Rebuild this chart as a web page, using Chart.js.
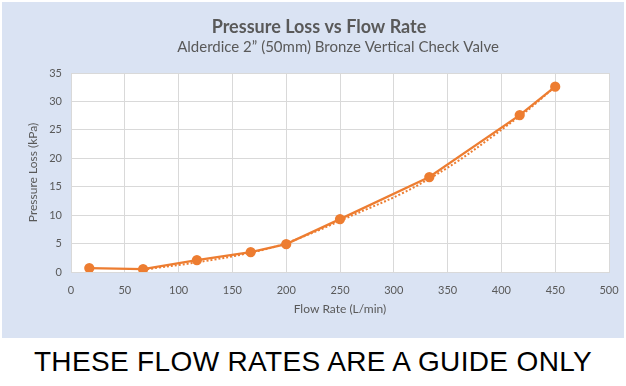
<!DOCTYPE html>
<html>
<head>
<meta charset="utf-8">
<script src="https://cdn.jsdelivr.net/npm/chart.js@4/dist/chart.umd.min.js"></script>
<style>
  html, body { margin: 0; padding: 0; background: #fff; }
  #wrap { position: relative; width: 626px; height: 386px; }
  #panel { position: absolute; left: 2px; top: 2px; width: 622px; height: 336px; background: #dae3f3; }
  #note { position: absolute; left: 0; top: 346px; width: 626px; text-align: center;
          font-family: "Liberation Sans", Arial, sans-serif; font-size: 28px; color: #000; letter-spacing: 0.35px; }
</style>
</head>
<body>
<div id="wrap">
  <div id="panel"><canvas id="chart" width="622" height="336"></canvas></div>
  <div id="note">THESE FLOW RATES ARE A GUIDE ONLY</div>
</div>
<script>
const flowRates = [17, 67, 117, 167, 200, 250, 333, 417, 450];
const pressureLoss = [0.7, 0.5, 2.1, 3.5, 4.9, 9.3, 16.7, 27.6, 32.6];
// dotted trendline
const trendFlow = [67, 117, 167, 200, 250, 333, 417, 450];
const trendLoss = [0.4, 1.7, 3.4, 5.1, 9.0, 16.4, 27.4, 32.6];

const chartTitle = 'Pressure Loss vs Flow Rate';
const chartSubtitle = 'Alderdice 2\u201D (50mm) Bronze Vertical Check Valve';

const orange = '#ed7d31';
const grey = '#595959';

// white plot area + the two title lines (placed like the Excel original)
const decor = {
    id: 'decor',
    beforeDraw(chart) {
        const { ctx, chartArea } = chart;
        ctx.save();
        ctx.fillStyle = '#ffffff';
        ctx.fillRect(chartArea.left, chartArea.top, chartArea.right - chartArea.left, chartArea.bottom - chartArea.top);
        ctx.restore();
    },
    afterDraw(chart) {
        const ctx = chart.ctx;
        ctx.save();
        ctx.fillStyle = grey;
        ctx.textAlign = 'center';
        ctx.textBaseline = 'middle';
        ctx.font = 'bold 18px Lato';
        ctx.fillText(chartTitle, 317, 25);
        ctx.font = '15px Lato';
        ctx.fillText(chartSubtitle, 336, 45);
        ctx.restore();
    }
};

new Chart(document.getElementById('chart').getContext('2d'), {
    type: 'scatter',
    data: {
        datasets: [{
            label: 'Pressure Loss',
            data: flowRates.map((x, i) => ({ x: x, y: pressureLoss[i] })),
            showLine: true,
            borderColor: orange,
            backgroundColor: orange,
            borderWidth: 2.25,
            pointRadius: 4,
            pointHoverRadius: 4,
            order: 1
        }, {
            label: 'Trend',
            data: trendFlow.map((x, i) => ({ x: x, y: trendLoss[i] })),
            showLine: true,
            borderColor: orange,
            borderWidth: 2,
            borderDash: [2, 2],
            pointRadius: 0,
            tension: 0.4,
            order: 2
        }]
    },
    options: {
        responsive: false,
        animation: false,
        layout: { padding: { left: 24, right: 15, top: 71, bottom: 22 } },
        scales: {
            x: {
                type: 'linear',
                min: 0, max: 500,
                ticks: { stepSize: 50, color: grey, font: { family: 'Lato', size: 11 }, padding: 12 },
                grid: { color: '#d9d9d9', drawTicks: false },
                border: { color: '#d9d9d9' },
                title: { display: true, text: 'Flow Rate (L/min)', color: grey, font: { family: 'Lato', size: 12 }, padding: { top: 0, bottom: 0 } },
                afterFit(scale) {
                    scale.height = 44;
                    scale.paddingLeft = 0;
                    scale.paddingRight = 0;
                }
            },
            y: {
                min: 0, max: 35,
                ticks: { stepSize: 5, color: grey, font: { family: 'Lato', size: 11 }, padding: 9 },
                grid: { color: '#d9d9d9', drawTicks: false },
                border: { color: '#d9d9d9' },
                title: { display: true, text: 'Pressure Loss (kPa)', color: grey, font: { family: 'Lato', size: 12 }, padding: { top: 0, bottom: 0 } },
                afterFit(scale) {
                    scale.width = 45;
                    scale.paddingTop = 0;
                    scale.paddingBottom = 0;
                }
            }
        },
        plugins: {
            legend: { display: false },
            tooltip: { enabled: false },
            title: { display: false },
            subtitle: { display: false }
        }
    },
    plugins: [decor]
});
</script>
</body>
</html>
